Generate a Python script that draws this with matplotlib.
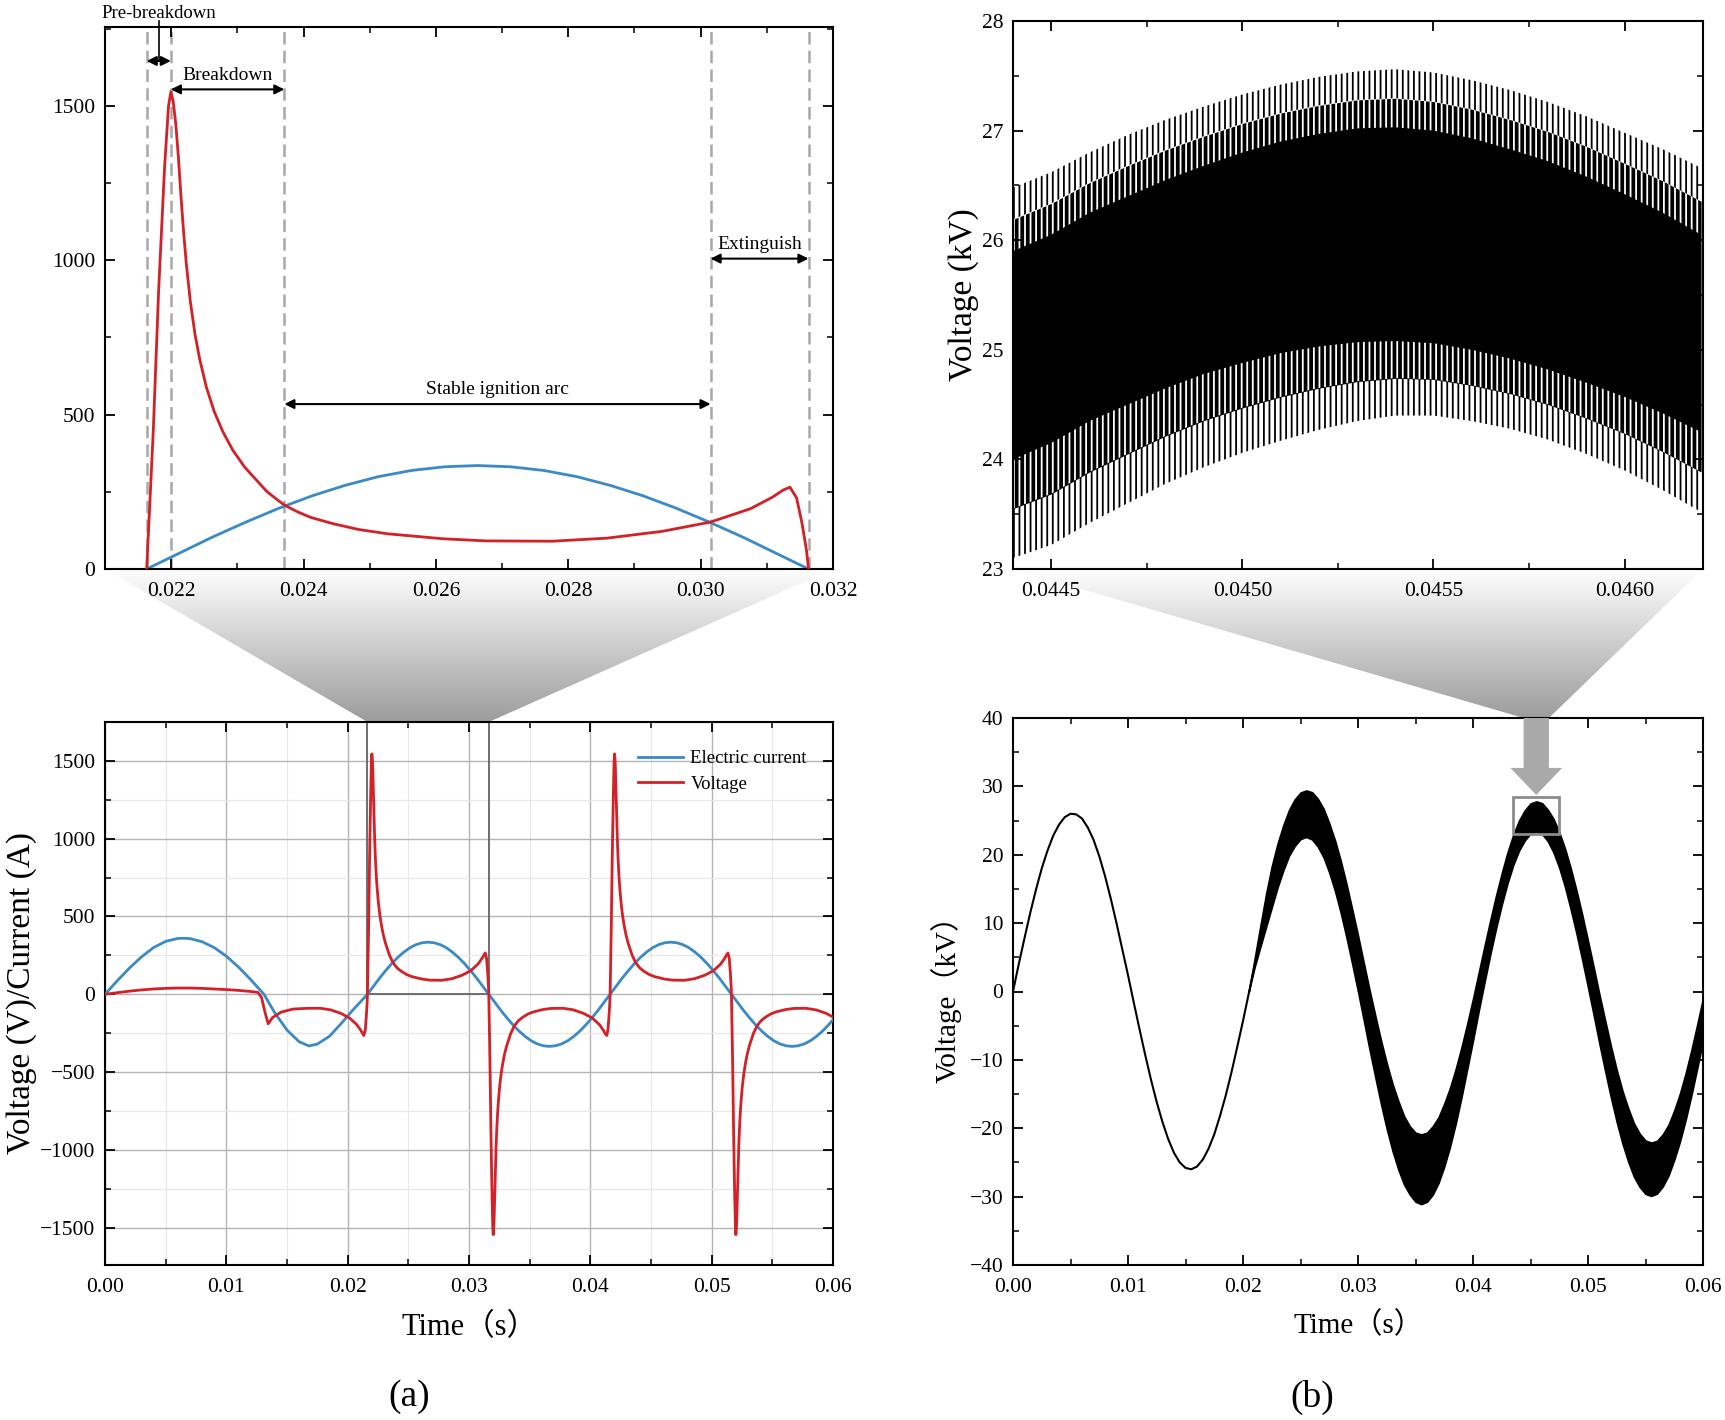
import numpy as np
import matplotlib
matplotlib.use('Agg')
import matplotlib.pyplot as plt
from matplotlib.patches import Polygon, Rectangle
from matplotlib.colors import LinearSegmentedColormap
from matplotlib.ticker import MultipleLocator, FormatStrFormatter

plt.rcParams['font.family'] = ['Liberation Serif', 'Noto Sans CJK SC']
plt.rcParams['hatch.linewidth'] = 1.3

BLUE = '#3a8ac8'
RED = '#d42027'

# ---------------- (a) arc voltage / current (times in ms) ----------------
# first cycle, before the first breakdown
volt_first_ms = [0, 1, 2, 3, 4, 5, 6, 7, 8, 9, 10, 11, 12, 12.6, 12.9, 13.2, 13.45,
                 13.8, 14.5, 15.5, 16.76, 17.76, 18.59, 19.42, 20.15, 20.75, 21.08,
                 21.33, 21.45, 21.53, 21.60]
volt_first = [0, 10, 20, 28, 34, 38, 40, 40, 38, 34, 30, 25, 18, 12, -20, -120, -190,
              -150, -115, -95, -90, -90, -100, -122, -152, -195, -232,
              -265, -230, -150, -60]

# one burning half cycle, time from the current zero crossing
arc_rel_ms = [0, 0.10, 0.18, 0.27, 0.33, 0.365, 0.40, 0.44, 0.48, 0.52, 0.56, 0.60,
              0.66, 0.73, 0.80, 0.90, 1.02, 1.15, 1.30, 1.48, 1.64, 1.81, 1.95, 2.08,
              2.28, 2.48, 2.81, 3.20, 3.64, 4.47, 5.13, 6.13, 6.96, 7.79, 8.52, 9.12,
              9.45, 9.62, 9.72, 9.82, 9.90, 9.97, 10.0]
arc_volt = [0, 450, 900, 1300, 1500, 1545, 1515, 1440, 1330, 1200, 1085, 985,
            865, 760, 680, 590, 510, 445, 385, 330, 292, 252, 228, 207,
            185, 167, 147, 128, 114, 98, 91, 90, 100, 122, 152, 195,
            232, 256, 265, 230, 150, 60, 0]

cur_first_ms = [0, 1, 2, 3, 4, 5, 6, 6.5, 7, 8, 9, 10, 11, 12, 13.1, 14, 15, 16,
                16.8, 17.5, 18.5, 19.5, 20.5]
cur_first = [0, 86, 167, 240, 300, 340, 359, 360, 358, 338, 300, 245, 175, 95, 0,
             -120, -230, -305, -332, -320, -270, -185, -95]
cur_rel_ms = [0, 0.5, 1, 1.5, 2, 2.5, 3, 3.5, 4, 4.5, 5, 5.5, 6, 6.5, 7, 7.5, 8, 8.5,
              9, 9.5, 10]
cur_half = [0, 52, 104, 152, 197, 237, 271, 299, 319, 331, 335, 331, 319, 299, 271,
            237, 197, 152, 104, 52, 0]

zero_cross_ms = [21.63, 31.63, 41.63, 51.63]
half_sign = [1, -1, 1, -1]

# boundaries of the arc stages (s)
stage_t = [0.02163, 0.021995, 0.02371, 0.03015, 0.03163]

# ---------------- (b) voltage (kV) ----------------
vb_first_ms = [0, 0.5, 1, 1.5, 2, 2.5, 3, 3.5, 4, 4.5, 5, 5.5, 6, 6.5, 7, 7.5, 8, 8.5,
               9, 9.5, 10, 10.5, 11, 11.5, 12, 12.5, 13, 13.5, 14, 14.5, 15, 15.5, 16,
               16.5, 17, 17.5, 18, 18.5, 19, 19.5, 20, 20.5, 21]
vb_first = [0, 4.0, 7.8, 11.5, 14.9, 18.0, 20.6, 22.8, 24.4, 25.5, 26.0, 25.9, 25.3,
            24.0, 22.2, 19.8, 16.9, 13.6, 10.0, 6.2, 2.4, -1.6, -5.5, -9.3, -12.9,
            -16.2, -19.1, -21.6, -23.6, -25.0, -25.8, -26.0, -25.6, -24.6, -23.0,
            -20.9, -18.2, -15.2, -11.8, -8.1, -4.3, -0.3, 3.7]

band_ms = [20.5, 21.0, 21.5, 22.0, 22.5, 23.0, 23.5, 24.0, 24.5, 25.0,
           25.5, 26.0, 26.5, 27.0, 27.5, 28.0, 28.5, 29.0, 29.5, 30.0,
           30.5, 31.0, 31.5, 32.0, 32.5, 33.0, 33.5, 34.0, 34.5, 35.0,
           35.5, 36.0, 36.5, 37.0, 37.5, 38.0, 38.5, 39.0, 39.5, 40.0,
           40.5, 41.0, 41.5, 42.0, 42.5, 43.0, 43.5, 44.0, 44.5, 45.0,
           45.5, 46.0, 46.5, 47.0, 47.5, 48.0, 48.5, 49.0, 49.5, 50.0,
           50.5, 51.0, 51.5, 52.0, 52.5, 53.0, 53.5, 54.0, 54.5, 55.0,
           55.5, 56.0, 56.5, 57.0, 57.5, 58.0, 58.5, 59.0, 59.5, 60.0]
band_mid = [0, 4.1, 8.0, 11.8, 15.3, 18.4, 21.0, 23.2, 24.7, 25.7,
            26.0, 25.7, 24.7, 23.2, 21.0, 18.4, 15.3, 11.8, 8.0, 4.1,
            0, -4.1, -8.0, -11.8, -15.3, -18.4, -21.0, -23.2, -24.7, -25.7,
            -26.0, -25.7, -24.7, -23.2, -21.0, -18.4, -15.3, -11.8, -8.0, -4.1,
            0, 4.0, 7.9, 11.6, 15.0, 18.1, 20.7, 22.8, 24.3, 25.3,
            25.6, 25.3, 24.3, 22.8, 20.7, 18.1, 15.0, 11.6, 7.9, 4.0,
            0, -4.1, -8.0, -11.8, -15.3, -18.4, -21.0, -23.2, -24.7, -25.7,
            -26.0, -25.7, -24.7, -23.2, -21.0, -18.4, -15.3, -11.8, -8.0, -4.1]
band_half = [0, 0.6, 1.5, 2.4, 3.0, 3.2, 3.3, 3.35, 3.4, 3.4,
             3.4, 3.45, 3.5, 3.55, 3.6, 3.7, 3.8, 3.9, 4.0, 4.1,
             4.2, 4.35, 4.5, 4.65, 4.8, 4.9, 5.0, 5.0, 5.0, 5.05,
             5.1, 5.05, 5.0, 4.8, 4.6, 4.3, 4.0, 3.65, 3.3, 3.05,
             2.8, 2.65, 2.5, 2.4, 2.3, 2.25, 2.2, 2.2, 2.2, 2.2,
             2.2, 2.25, 2.3, 2.45, 2.6, 2.8, 3.0, 3.15, 3.3, 3.4,
             3.5, 3.6, 3.7, 3.75, 3.8, 3.85, 3.9, 3.9, 3.9, 3.9,
             3.9, 3.85, 3.8, 3.7, 3.6, 3.5, 3.4, 3.3, 3.2, 3.1]

# zoomed oscillation envelope 0.0444 - 0.0462 s
t_zoom = [0.04440, 0.04450, 0.04460, 0.04470, 0.04480, 0.04490, 0.04500, 0.04510,
          0.04520, 0.04530, 0.04540, 0.04550, 0.04560, 0.04570, 0.04580, 0.04590,
          0.04600, 0.04610, 0.04620]
up_out = [26.48, 26.62, 26.80, 26.96, 27.10, 27.22, 27.33, 27.42, 27.49, 27.54,
          27.56, 27.53, 27.46, 27.37, 27.26, 27.13, 26.98, 26.83, 26.66]
up_in = [25.90, 26.05, 26.25, 26.40, 26.55, 26.68, 26.80, 26.90, 26.97, 27.02,
         27.03, 27.00, 26.93, 26.83, 26.72, 26.58, 26.42, 26.25, 26.05]
low_in = [24.00, 24.15, 24.35, 24.50, 24.65, 24.78, 24.88, 24.97, 25.03, 25.07,
          25.08, 25.06, 25.00, 24.92, 24.82, 24.70, 24.57, 24.42, 24.25]
low_out = [23.10, 23.22, 23.42, 23.60, 23.78, 23.93, 24.06, 24.17, 24.27, 24.35,
           24.40, 24.40, 24.35, 24.28, 24.18, 24.05, 23.90, 23.72, 23.52]

# ---------------- assemble panel (a) series ----------------
t_v = list(volt_first_ms)
v_a = list(volt_first)
t_i = list(cur_first_ms)
i_a = list(cur_first)
for zc, sg in zip(zero_cross_ms, half_sign):
    t_v += [zc + r for r in arc_rel_ms]
    v_a += [sg * v for v in arc_volt]
    t_i += [zc + r for r in cur_rel_ms]
    i_a += [sg * v for v in cur_half]
t_v = np.array(t_v) / 1000
t_i = np.array(t_i) / 1000

W, H = 1725, 1420
fig = plt.figure(figsize=(W / 100, H / 100), dpi=100)
ax_tl = fig.add_axes([105 / W, 1 - 569 / H, 728 / W, 542 / H])
ax_bl = fig.add_axes([105 / W, 1 - 1265 / H, 728 / W, 543 / H])
ax_tr = fig.add_axes([1013 / W, 1 - 569 / H, 690 / W, 548 / H])
ax_br = fig.add_axes([1013 / W, 1 - 1265 / H, 690 / W, 547 / H])


def style(ax):
    ax.tick_params(which='both', direction='in', top=True, right=True,
                   labelsize=15.5)
    ax.tick_params(axis='x', pad=9)
    ax.tick_params(axis='y', pad=7)
    ax.tick_params(which='major', length=7, width=1.3)
    ax.tick_params(which='minor', length=4, width=1.1)
    for s in ax.spines.values():
        s.set_linewidth(1.5)


# ---- top left: one half cycle ----
ax = ax_tl
for x in stage_t:
    ax.axvline(x, color='#a8a8a8', lw=1.8, ls=(0, (5, 2.5)), zorder=1)
ax.plot(t_i, i_a, color=BLUE, lw=2.0, zorder=2)
ax.plot(t_v, v_a, color=RED, lw=2.0, zorder=3)
ax.set_xlim(0.0210, 0.0320)
ax.set_ylim(0, 1755)
ax.xaxis.set_major_locator(MultipleLocator(0.002))
ax.xaxis.set_minor_locator(MultipleLocator(0.001))
ax.xaxis.set_major_formatter(FormatStrFormatter('%.3f'))
ax.yaxis.set_major_locator(MultipleLocator(500))
ax.yaxis.set_minor_locator(MultipleLocator(250))
style(ax)

arr = dict(arrowstyle='<|-|>,head_length=0.4,head_width=0.2', color='black',
           lw=1.5, shrinkA=0, shrinkB=0, mutation_scale=14)
stage_names = ['Pre-breakdown', 'Breakdown', 'Stable ignition arc', 'Extinguish']
arrow_y = [1645, 1553, 534, 1005]
label_y = [1800, 1597, 580, 1052]
stage_fs = [13.5, 14, 14, 14]
for k in range(4):
    x0, x1 = stage_t[k], stage_t[k + 1]
    ax.annotate('', xy=(x1, arrow_y[k]), xytext=(x0, arrow_y[k]), arrowprops=arr,
                annotation_clip=False)
    xm = (x0 + x1) / 2
    ax.text(xm, label_y[k], stage_names[k], ha='center', va='center',
            fontsize=stage_fs[k], clip_on=False)
xm = (stage_t[0] + stage_t[1]) / 2
ax.plot([xm, xm], [arrow_y[0], 1775], color='black', lw=1.2, clip_on=False)

# ---- bottom left: full record ----
ax = ax_bl
ax.plot(t_i, i_a, color=BLUE, lw=2.0, label='Electric current', zorder=3)
ax.plot(t_v, v_a, color=RED, lw=2.0, label='Voltage', zorder=4)
ax.set_xlim(0, 0.06)
ax.set_ylim(-1740, 1750)
ax.xaxis.set_major_locator(MultipleLocator(0.01))
ax.xaxis.set_minor_locator(MultipleLocator(0.005))
ax.xaxis.set_major_formatter(FormatStrFormatter('%.2f'))
ax.yaxis.set_major_locator(MultipleLocator(500))
ax.yaxis.set_minor_locator(MultipleLocator(250))
ax.grid(which='major', color='#b4b4b4', lw=1.0, zorder=0)
ax.grid(which='minor', color='#e8e8e8', lw=0.9, zorder=0)
ax.set_axisbelow(True)
style(ax)
z2, z3 = stage_t[0], stage_t[-1]
ax.plot([z2, z2, z3, z3], [1750, 0, 0, 1750], color='#6e6e6e', lw=1.4, zorder=2)
ax.set_xlabel('Time（s）', fontsize=22, labelpad=12)
ax.set_ylabel('Voltage (V)/Current (A)', fontsize=24, labelpad=2)
ax.legend(loc='upper left', bbox_to_anchor=(0.732, 0.948), frameon=False,
          fontsize=13.5, handlelength=2.4, handletextpad=0.4, labelspacing=0.45,
          borderpad=0, borderaxespad=0)

# ---- top right: oscillation detail ----
ax = ax_tr
tz = np.array(t_zoom)
uo, ui = np.array(up_out), np.array(up_in)
li, lo = np.array(low_in), np.array(low_out)
um, lm = (ui + uo) / 2, (li + lo) / 2
# solid core, dark fringe with thin white gaps, light fringe with black spikes
ax.fill_between(tz, lm, um, color='black', lw=0)
ax.fill_between(tz, ui, um, facecolor='none', edgecolor='white', hatch='|||', lw=0)
ax.fill_between(tz, lm, li, facecolor='none', edgecolor='white', hatch='|||', lw=0)
ax.fill_between(tz, um, uo, facecolor='none', edgecolor='black', hatch='|||', lw=0)
ax.fill_between(tz, lo, lm, facecolor='none', edgecolor='black', hatch='|||', lw=0)
ax.set_xlim(0.04440, 0.046205)
ax.set_ylim(23, 28)
ax.xaxis.set_major_locator(MultipleLocator(0.0005))
ax.xaxis.set_minor_locator(MultipleLocator(0.00025))
ax.xaxis.set_major_formatter(FormatStrFormatter('%.4f'))
ax.yaxis.set_major_locator(MultipleLocator(1))
ax.yaxis.set_minor_locator(MultipleLocator(0.5))
style(ax)
ax.set_ylabel('Voltage (kV)', fontsize=24, labelpad=2)

# ---- bottom right: full voltage ----
ax = ax_br
bt = np.array(band_ms) / 1000
bm = np.array(band_mid)
bh = np.array(band_half)
ax.plot(np.array(vb_first_ms) / 1000, vb_first, color='black', lw=1.5)
ax.fill_between(bt, bm - bh, bm + bh, color='black', lw=1.2)
ax.set_xlim(0, 0.06)
ax.set_ylim(-40, 40)
ax.xaxis.set_major_locator(MultipleLocator(0.01))
ax.xaxis.set_minor_locator(MultipleLocator(0.005))
ax.xaxis.set_major_formatter(FormatStrFormatter('%.2f'))
ax.yaxis.set_major_locator(MultipleLocator(10))
ax.yaxis.set_minor_locator(MultipleLocator(5))
style(ax)
ax.set_xlabel('Time（s）', fontsize=21, labelpad=11)
ax.set_ylabel('Voltage（kV）', fontsize=21, labelpad=6)

# zoom window and arrow
box_x, box_y, box_w, box_h = 0.0435, 23.0, 0.0040, 5.45
ax.add_patch(Rectangle((box_x, box_y), box_w, box_h, fill=False,
                       edgecolor='#8c8c8c', lw=2.0, zorder=6))
cx = box_x + box_w / 2
sh, hh, base_y, tip_y = 0.0011, 0.00225, 32.7, 28.75
ax.add_patch(Polygon([(cx - sh, 40), (cx + sh, 40), (cx + sh, base_y),
                      (cx + hh, base_y), (cx, tip_y), (cx - hh, base_y),
                      (cx - sh, base_y)], closed=True, color='#a9a9a9', lw=0,
                     clip_on=False, zorder=10))

# ---- gradient wedges linking the panels ----
to_fig = fig.transFigure.inverted()


def fig_pt(ax, xy, trans='data'):
    tr = ax.transData if trans == 'data' else ax.transAxes
    return to_fig.transform(tr.transform(xy))


ov = fig.add_axes([0, 0, 1, 1], zorder=-1)
ov.set_xlim(0, 1)
ov.set_ylim(0, 1)
ov.axis('off')
fade = LinearSegmentedColormap.from_list('fade', ['#ffffff', '#9c9c9c'])
grad = np.linspace(1, 0, 256)[:, None]

wedges = [
    [fig_pt(ax_tl, (0, 0), 'axes'), fig_pt(ax_tl, (1, 0), 'axes'),
     fig_pt(ax_bl, (z3, 1750)), fig_pt(ax_bl, (z2, 1750))],
    [fig_pt(ax_tr, (0, 0), 'axes'), fig_pt(ax_tr, (1, 0), 'axes'),
     fig_pt(ax_br, (cx + sh, 40)), fig_pt(ax_br, (cx - sh, 40))],
]
for pts in wedges:
    pts = np.array(pts)
    poly = Polygon(pts, closed=True, facecolor='none', edgecolor='none')
    ov.add_patch(poly)
    im = ov.imshow(grad, extent=[pts[:, 0].min(), pts[:, 0].max(),
                                 pts[:, 1].min(), pts[:, 1].max()],
                   origin='lower', cmap=fade, vmin=0, vmax=1, aspect='auto')
    im.set_clip_path(poly)

fig.text(409 / W, 1 - 1397 / H, '(a)', ha='center', va='center', fontsize=27)
fig.text(1312 / W, 1 - 1397 / H, '(b)', ha='center', va='center', fontsize=27)

fig.savefig('out.png', dpi=100)
